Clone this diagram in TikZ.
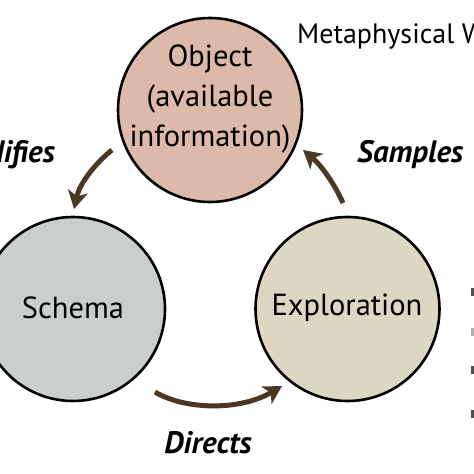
\documentclass[tikz,border=0pt]{standalone}
\usepackage{fontspec}
\setmainfont{PT Sans}
\usetikzlibrary{arrows.meta}
\definecolor{objfill}{HTML}{DDB9A9}
\definecolor{schfill}{HTML}{C9CFCB}
\definecolor{expfill}{HTML}{DCD7C3}
\definecolor{arrowc}{HTML}{4A3822}
\definecolor{markdark}{HTML}{505050}
\definecolor{marklight}{HTML}{B0B0B0}
\begin{document}
\begin{tikzpicture}[x=1pt,y=-1pt,
  state/.style={circle, draw=black, line width=2.6pt, minimum size=184pt, inner sep=0pt},
  bodytext/.style={font=\fontsize{30.5}{40}\selectfont, align=center, inner sep=0pt},
  flow/.style={draw=arrowc, line width=5pt, -{Stealth[length=18pt,width=20pt,inset=5pt]}},
  lbl/.style={font=\fontsize{31}{36}\selectfont\itshape\bfseries, inner sep=0pt},
  keymark/.style={inner sep=0pt, minimum width=5pt, minimum height=8pt}
]
\useasboundingbox (0,0) rectangle (474,474);
\clip (0,0) rectangle (474,474);
% circles
\node[state, fill=objfill] (obj) at (210,110) {};
\node[state, fill=schfill] (sch) at (73,309) {};
\node[state, fill=expfill] (exp) at (347.5,309) {};
% texts
\node[bodytext] (objtext) at (210,99) {Object\\(available\\information)};
\node[bodytext] (schtext) at (73,308) {Schema};
\node[bodytext] (exptext) at (347,308) {Exploration};
\node[font=\fontsize{28}{32}\selectfont, anchor=base west, inner sep=0pt] (meta) at (297,43) {Metaphysical World};
% labels
\node[lbl, anchor=east] (modifies) at (55,155) {Modifies};
\node[lbl, anchor=west] (samples) at (357,155) {Samples};
\node[lbl] (directs) at (208,443) {Directs};
% connector ends
\coordinate (m1) at (112,150);
\coordinate (m2) at (74,209);
\coordinate (s1) at (343,203);
\coordinate (s2) at (303,150);
\coordinate (d1) at (155,392);
\coordinate (d2) at (282,386);
\draw[flow] (m1) .. controls (97,162) and (80,182) .. (m2);
\draw[flow] (s1) .. controls (335,185) and (322,166) .. (s2);
\draw[flow] (d1) .. controls (185,410) and (240,411) .. (d2);
% partial legend marks at right edge
\node[keymark, fill=markdark] (k1) at (473.5,292) {};
\node[keymark, fill=marklight] (k2) at (473.5,332) {};
\node[keymark, fill=markdark] (k3) at (473.5,370) {};
\node[keymark, fill=markdark] (k4) at (473.5,414) {};
\end{tikzpicture}
\end{document}
